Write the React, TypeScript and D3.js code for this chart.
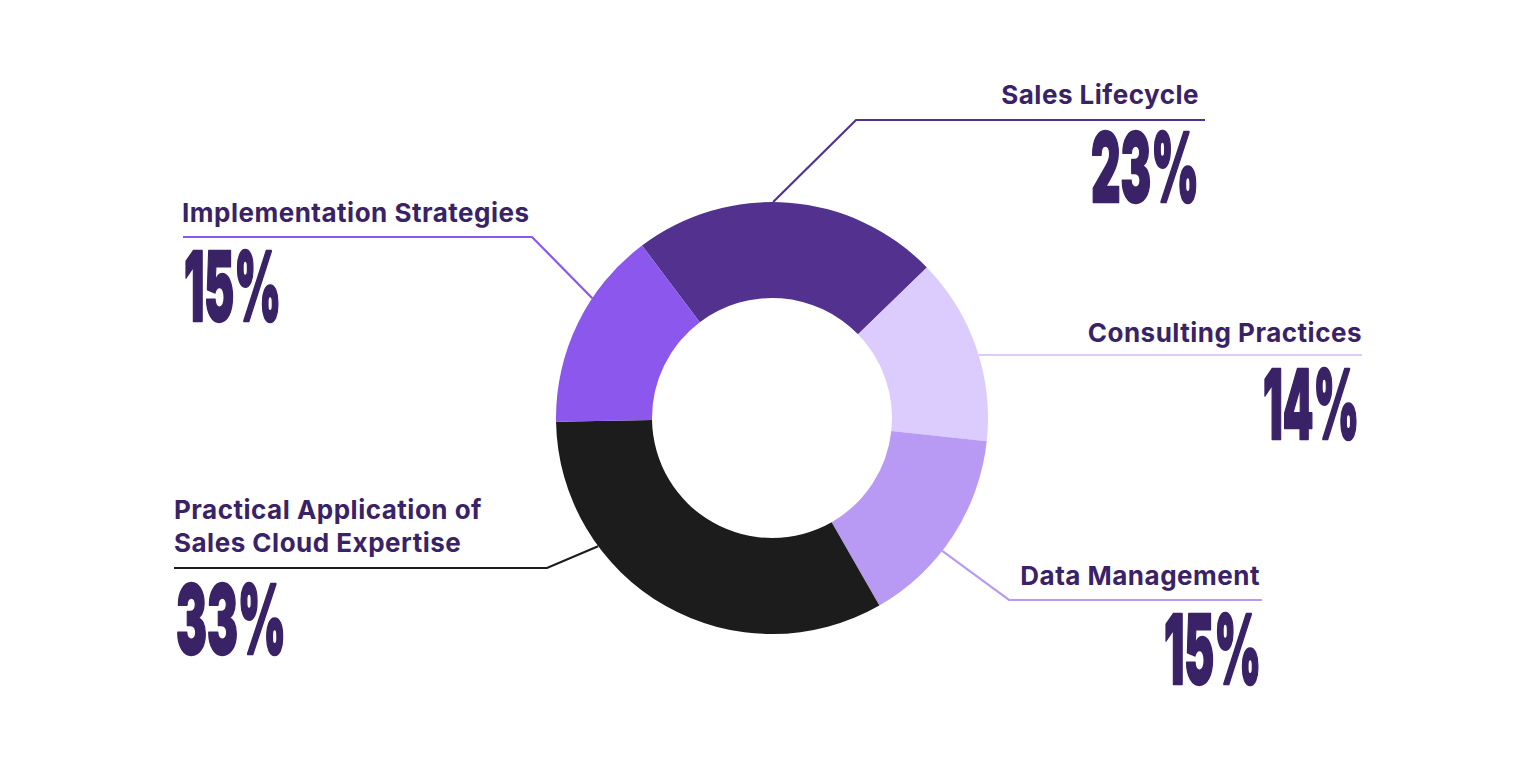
import React from 'react';
import * as d3 from 'd3';

// chart data
const categories = [
  'Sales Lifecycle',
  'Consulting Practices',
  'Data Management',
  'Practical Application of Sales Cloud Expertise',
  'Implementation Strategies',
];
const shares = [23, 14, 15, 33, 15];
const sliceColors = ['#52318f', '#dccbfd', '#b89af5', '#1c1c1c', '#8b57ed'];
const labelLines = [
  ['Sales Lifecycle'],
  ['Consulting Practices'],
  ['Data Management'],
  ['Practical Application of', 'Sales Cloud Expertise'],
  ['Implementation Strategies'],
];

const W = 1536;
const H = 778;
const CX = 772;
const CY = 418;
const R_OUT = 216;
const R_IN = 120;
const START = (-37 * Math.PI) / 180;
const TEXT = '#3a2267';

// callout layout: anchor angle on the ring (deg), elbow, end of the rule,
// label baselines, big number box
const callouts = [
  { angle: 0.3, elbow: [856, 120], end: 1205, side: 'right', textX: 1199, base: 104, num: { x0: 1091, x1: 1199, bottom: 202 } },
  { angle: 73, elbow: [980, 355], end: 1362, side: 'right', textX: 1362, base: 342, num: { x0: 1263, x1: 1359, bottom: 439 } },
  { angle: 128, elbow: [1009, 600], end: 1262, side: 'right', textX: 1260, base: 585, num: { x0: 1164, x1: 1261, bottom: 684 } },
  { angle: 233.6, elbow: [547, 568], end: 174, side: 'left', textX: 174, base: 519, num: { x0: 176, x1: 286, bottom: 654 } },
  { angle: 303.7, elbow: [532, 237], end: 183, side: 'left', textX: 182, base: 222, num: { x0: 184, x1: 281, bottom: 321 } },
];

export default function App() {
  const pie = d3.pie<number>()
    .sort(null)
    .value(d => d)
    .startAngle(START)
    .endAngle(START + 2 * Math.PI);
  const arcs = pie(shares);
  const arc = d3.arc<d3.PieArcDatum<number>>()
    .innerRadius(R_IN)
    .outerRadius(R_OUT);

  const line = d3.line();

  return (
    <div style={{ position: 'absolute', left: 0, top: 0 }}>
      <svg width={W} height={H} style={{ display: 'block', background: '#ffffff' }}>
        <g transform={`translate(${CX},${CY})`}>
          {arcs.map((a, i) => (
            <path key={categories[i]} d={arc(a) || ''} fill={sliceColors[i]} />
          ))}
        </g>

        {callouts.map((c, i) => {
          const rad = (c.angle * Math.PI) / 180;
          const ax = CX + R_OUT * Math.sin(rad);
          const ay = CY - R_OUT * Math.cos(rad);
          const pts: [number, number][] = [
            [ax, ay],
            [c.elbow[0], c.elbow[1]],
            [c.end, c.elbow[1]],
          ];
          const anchor = c.side === 'right' ? 'end' : 'start';
          const lines = labelLines[i];
          return (
            <g key={categories[i]}>
              <path d={line(pts) || ''} fill="none" stroke={sliceColors[i]} strokeWidth={2.2} />
              {lines.map((t, j) => (
                <text
                  key={t}
                  x={c.textX}
                  y={c.base + j * 33}
                  textAnchor={anchor}
                  fill={TEXT}
                  fontFamily="Inter, 'Noto Sans', sans-serif"
                  fontWeight={700}
                  fontSize={26}
                  letterSpacing={0.5}
                >
                  {t}
                </text>
              ))}
              <text
                x={c.num.x0}
                y={c.num.bottom}
                fill={TEXT}
                stroke={TEXT}
                strokeWidth={2.4}
                strokeLinejoin="round"
                fontFamily="Inter, Roboto, sans-serif"
                fontWeight={900}
                fontSize={96}
                textLength={c.num.x1 - c.num.x0}
                lengthAdjust="spacingAndGlyphs"
              >
                {`${shares[i]}%`}
              </text>
            </g>
          );
        })}
      </svg>
    </div>
  );
}
